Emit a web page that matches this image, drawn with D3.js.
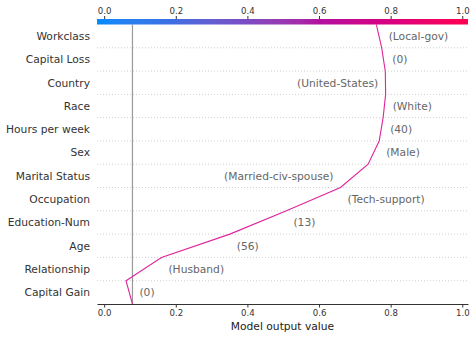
<!DOCTYPE html>
<html>
<head>
<meta charset="utf-8">
<script src="https://cdn.jsdelivr.net/npm/d3@7"></script>
<style>
  body { margin: 0; background: #fff; }
  text { font-family: "DejaVu Sans", sans-serif; }
</style>
</head>
<body>
<div class="chart"></div>
<script>
// features listed top to bottom, as in the plot
var features = ["Workclass", "Capital Loss", "Country", "Race", "Hours per week", "Sex",
  "Marital Status", "Occupation", "Education-Num", "Age", "Relationship", "Capital Gain"];
var featureValues = ["(Local-gov)", "(0)", "(United-States)", "(White)", "(40)", "(Male)",
  "(Married-civ-spouse)", "(Tech-support)", "(13)", "(56)", "(Husband)", "(0)"];
var shapValues = [-0.015, -0.010, -0.001, 0.007, 0.011, 0.031,
  0.077, 0.151, 0.158, 0.191, 0.099, -0.018];
var baseValue = 0.079;
var xTicks = [0.0, 0.2, 0.4, 0.6, 0.8, 1.0];

var svgWidth = 474;
var svgHeight = 338;

var svg = d3.select(".chart")
  .append("svg")
  .attr("width", svgWidth)
  .attr("height", svgHeight);

var xScale = d3.scaleLinear().domain([-0.02, 1.016]).range([97, 468]);
var yScale = d3.scaleLinear().domain([0, features.length]).range([304, 24.5]);

// cumulative output, from the bottom (base) upwards
var n = features.length;
var cum = [baseValue];
for (var i = n - 1; i >= 0; i--) {
  cum.push(cum[cum.length - 1] + shapValues[i]);
}
// cum[k] is the value at boundary k (0 = bottom)

var colorStops = ["#008bfb", "#3b6fe2", "#7a4cc4", "#b2109f", "#dc007e", "#ff0051"];
var cmap = d3.scaleLinear()
  .domain(colorStops.map(function(d, i) { return i / (colorStops.length - 1); }))
  .range(colorStops)
  .interpolate(d3.interpolateLab);

// dotted grid lines at row boundaries
svg.append("g")
  .selectAll("line")
  .data(d3.range(1, n))
  .enter()
  .append("line")
  .attr("x1", xScale.range()[0])
  .attr("x2", xScale.range()[1])
  .attr("y1", function(d) { return yScale(d); })
  .attr("y2", function(d) { return yScale(d); })
  .attr("stroke", "#d0d0d0")
  .attr("stroke-width", 1)
  .attr("stroke-dasharray", "1,2");

// base value line
svg.append("line")
  .attr("x1", xScale(baseValue))
  .attr("x2", xScale(baseValue))
  .attr("y1", yScale(0))
  .attr("y2", yScale(n))
  .attr("stroke", "#999")
  .attr("stroke-width", 1.2);

// feature names
svg.append("g")
  .selectAll("text")
  .data(features)
  .enter()
  .append("text")
  .attr("x", 90)
  .attr("y", function(d, i) { return yScale(n - i - 0.5); })
  .attr("dy", "0.36em")
  .attr("text-anchor", "end")
  .style("font-size", "10.7px")
  .style("fill", "#333")
  .text(function(d) { return d; });

// decision line
var line = d3.line()
  .x(function(d) { return xScale(d); })
  .y(function(d, k) { return yScale(k); });

svg.append("path")
  .datum(cum)
  .attr("d", line)
  .attr("fill", "none")
  .attr("stroke", "#e0259a")
  .attr("stroke-width", 1.1);

// feature value labels
var xMaxPix = xScale.range()[1];
features.forEach(function(f, i) {
  var k = n - i; // upper boundary index
  var lo = cum[k - 1];
  var hi = cum[k];
  var t = svg.append("text")
    .attr("x", xScale(Math.max(lo, hi)) + 7)
    .attr("y", yScale(k - 0.5))
    .attr("dy", "0.36em")
    .attr("text-anchor", "start")
    .style("font-size", "10.7px")
    .style("fill", "#666")
    .text(featureValues[i]);
  var bb = t.node().getBBox();
  if (bb.x + bb.width > xMaxPix) {
    t.attr("x", xScale(Math.min(lo, hi)) - 7).attr("text-anchor", "end");
  }
});

// bottom axis
var bottomAxis = d3.axisBottom(xScale)
  .tickValues(xTicks)
  .tickFormat(d3.format(".1f"))
  .tickSizeInner(3.5)
  .tickSizeOuter(0);

var xAxisG = svg.append("g")
  .attr("transform", "translate(0," + yScale(0) + ")")
  .call(bottomAxis);
xAxisG.select(".domain").attr("stroke", "#333").attr("stroke-width", 1.1);
xAxisG.selectAll(".tick line").attr("stroke", "#333");
xAxisG.selectAll(".tick text")
  .attr("y", 6)
  .style("font-size", "8.6px")
  .style("font-family", "DejaVu Sans")
  .style("fill", "#333");

svg.append("text")
  .attr("x", (xScale.range()[0] + xScale.range()[1]) / 2)
  .attr("y", 326)
  .attr("dy", "0.36em")
  .attr("text-anchor", "middle")
  .style("font-size", "10.7px")
  .style("fill", "#222")
  .text("Model output value");

// colorbar on top
var grad = svg.append("defs")
  .append("linearGradient")
  .attr("id", "cbar")
  .attr("x1", "0%").attr("x2", "100%")
  .attr("y1", "0%").attr("y2", "0%");
d3.range(0, 1.0001, 0.05).forEach(function(s) {
  grad.append("stop")
    .attr("offset", (s * 100) + "%")
    .attr("stop-color", cmap(s));
});

svg.append("rect")
  .attr("x", xScale.range()[0])
  .attr("y", 19)
  .attr("width", xScale.range()[1] - xScale.range()[0])
  .attr("height", 5.5)
  .attr("fill", "url(#cbar)");

var topAxis = d3.axisTop(xScale)
  .tickValues(xTicks)
  .tickFormat(d3.format(".1f"))
  .tickSizeInner(3)
  .tickSizeOuter(0);

var topG = svg.append("g")
  .attr("transform", "translate(0,19)")
  .call(topAxis);
topG.select(".domain").remove();
topG.selectAll(".tick line").attr("stroke", "#333");
topG.selectAll(".tick text")
  .attr("y", -5)
  .style("font-size", "8.6px")
  .style("font-family", "DejaVu Sans")
  .style("fill", "#333");
</script>
</body>
</html>
